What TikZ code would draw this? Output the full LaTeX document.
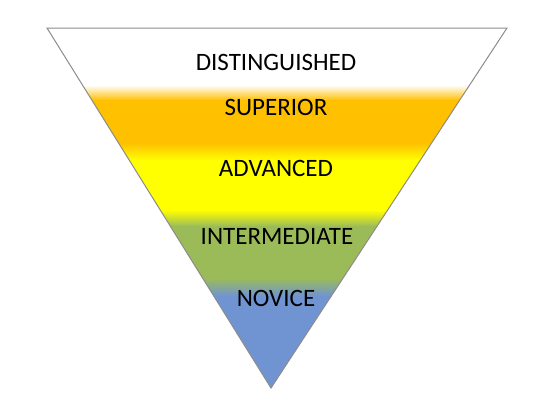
\documentclass[tikz,border=0pt]{standalone}
\usepackage{fontspec}
\setmainfont{Carlito}
\definecolor{cOrange}{HTML}{FFC000}
\definecolor{cYellow}{HTML}{FFFF00}
\definecolor{cGreen}{HTML}{9BBB59}
\definecolor{cBlue}{HTML}{7094D2}
\definecolor{cEdge}{HTML}{8C8C8C}
\begin{document}
\begin{tikzpicture}[x=1pt,y=-1pt,
  lvl/.style={font=\fontsize{25}{29}\selectfont, text=black, inner sep=0pt, anchor=center}]
\useasboundingbox (0,0) rectangle (543,410);
\fill[white] (0,0) rectangle (543,410);
\begin{scope}
\clip (47,28) -- (507,28) -- (271,388) -- cycle;
\fill[white] (40,20) rectangle (510,85.5);
\shade[top color=white, bottom color=cOrange] (40,85) rectangle (510,100.5);
\fill[cOrange] (40,100) rectangle (510,143.5);
\shade[top color=cOrange, bottom color=cYellow] (40,143) rectangle (510,160.5);
\fill[cYellow] (40,160) rectangle (510,210.5);
\shade[top color=cYellow, bottom color=cGreen] (40,210) rectangle (510,226.5);
\fill[cGreen] (40,226) rectangle (510,278.5);
\shade[top color=cGreen, bottom color=cBlue] (40,278) rectangle (510,296.5);
\fill[cBlue] (40,296) rectangle (510,395);
\end{scope}
\draw[cEdge, line width=1pt] (47,28) -- (507,28) -- (271,388) -- cycle;
\node[lvl] (dist) at (276,62) {DISTINGUISHED};
\node[lvl] (sup) at (276,107) {SUPERIOR};
\node[lvl] (adv) at (276,168) {ADVANCED};
\node[lvl] (inter) at (277,236) {INTERMEDIATE};
\node[lvl] (nov) at (276,298) {NOVICE};
\end{tikzpicture}
\end{document}
